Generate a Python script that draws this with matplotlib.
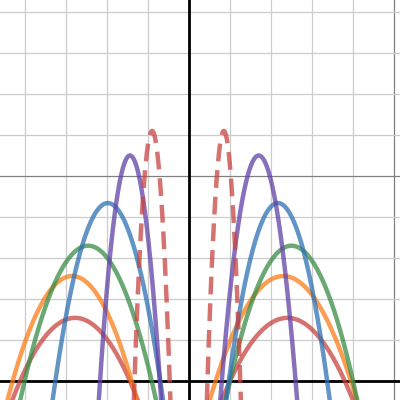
import numpy as np
import matplotlib
matplotlib.use("Agg")
import matplotlib.pyplot as plt

# parabola params: vertex x, vertex y, half-width at y=0
names = ["red", "orange", "green", "blue", "purple", "dashed"]
colors = ["#c74440", "#fa7e19", "#388c46", "#2d70b3", "#6042a6", "#c74440"]
left_h = [-2.78, -2.85, -2.46, -1.98, -1.44, -0.9]
left_k = [1.54, 2.56, 3.3, 4.34, 5.5, 6.1]
left_w = [1.34, 1.45, 1.55, 1.28, 0.73, 0.43]
right_h = [2.4, 2.3, 2.5, 2.17, 1.7, 0.85]
right_k = [1.54, 2.56, 3.3, 4.34, 5.5, 6.1]
right_w = [1.4, 1.65, 1.5, 1.2, 0.9, 0.4]

fig = plt.figure(figsize=(4, 4), dpi=100)
ax = fig.add_axes([0, 0, 1, 1])
x0, x1 = -189/41, 211/41
y0, y1 = -19/41, 381/41
ax.set_xlim(x0, x1); ax.set_ylim(y0, y1)
for v in range(-4, 6):
    ax.axvline(v, color="#cccccc" if v % 5 else "#808080", lw=0.9, zorder=0)
for v in range(0, 10):
    ax.axhline(v, color="#cccccc" if v % 5 else "#808080", lw=0.9, zorder=0)
ax.axvline(0, color="black", lw=2, zorder=1)
ax.axhline(0, color="black", lw=2, zorder=1)

for hs, ks, ws in [(left_h, left_k, left_w), (right_h, right_k, right_w)]:
    for n, c, h, k, w in zip(names, colors, hs, ks, ws):
        xs = np.linspace(h - w*1.3, h + w*1.3, 400)
        ys = k - k / w**2 * (xs - h)**2
        ax.plot(xs, ys, color=c, lw=3.2, alpha=0.75,
                ls=(0, (4, 2)) if n == "dashed" else "-", zorder=2)
ax.axis("off")
fig.savefig("out.png")
